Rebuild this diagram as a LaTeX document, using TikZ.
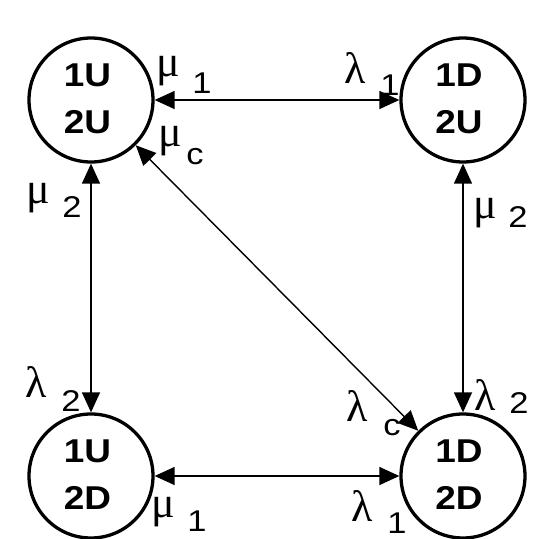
\documentclass[tikz,border=0pt]{standalone}
\usepackage{fontspec}
\setmainfont{Liberation Sans}
\newfontfamily\grk{Liberation Serif}
\newfontfamily\stfont[FakeStretch=1.12]{Liberation Sans}
\newfontfamily\sbfont[FakeStretch=1.15]{Liberation Sans}
\usetikzlibrary{arrows.meta}
\begin{document}
\begin{tikzpicture}[x=1pt,y=-1pt,
 state/.style={draw,circle,line width=3.3pt,minimum size=124pt,inner sep=0pt},
 stxt/.style={font=\stfont\fontsize{33}{47}\selectfont\bfseries,align=center,inner sep=0pt},
 edge/.style={line width=1.4pt,{Triangle[length=20pt,width=18pt]}-{Triangle[length=20pt,width=18pt]}},
 gl/.style={font=\grk\fontsize{44}{44}\selectfont,inner sep=0pt},
 sb/.style={font=\sbfont\fontsize{30}{30}\selectfont,inner sep=0pt}]
\useasboundingbox (0,0) rectangle (550,539);
\node[state] (tl) at (91,100) {};
\node[state] (tr) at (463,100) {};
\node[state] (bl) at (91,476) {};
\node[state] (br) at (463,476) {};
\node[stxt] (tlt) at (87.5,99) {1U\\2U};
\node[stxt] (trt) at (459,99) {1D\\2U};
\node[stxt] (blt) at (87.5,475) {1U\\2D};
\node[stxt] (brt) at (459,475) {1D\\2D};
\draw[edge] (tl) -- (tr);
\draw[edge] (tl) -- (bl);
\draw[edge] (tr) -- (br);
\draw[edge] (bl) -- (br);
\draw[edge] (tl) -- (br);
% labels
\node[gl] (m1a) at (168,71) {μ};   \node[sb] (s1a) at (202,83) {1};
\node[gl] (mca) at (170,141) {μ};  \node[sb] (sca) at (195,157) {c};
\node[gl] (m2a) at (38,198) {μ};   \node[sb] (s2a) at (72,207) {2};
\node[gl] (l1a) at (355,68) {λ};   \node[sb] (t1a) at (390,85) {1};
\node[gl] (m2b) at (485,213) {μ};  \node[sb] (s2b) at (518,217) {2};
\node[gl] (l2a) at (36,382) {λ};   \node[sb] (t2a) at (71,401) {2};
\node[gl] (m1b) at (163,512) {μ};  \node[sb] (s1b) at (197,521) {1};
\node[gl] (lca) at (357,406) {λ};  \node[sb] (tca) at (392,428) {c};
\node[gl] (l2b) at (485,395) {λ};  \node[sb] (t2b) at (519,403) {2};
\node[gl] (l1b) at (362,506) {λ};  \node[sb] (t1b) at (397,523) {1};
\end{tikzpicture}
\end{document}
